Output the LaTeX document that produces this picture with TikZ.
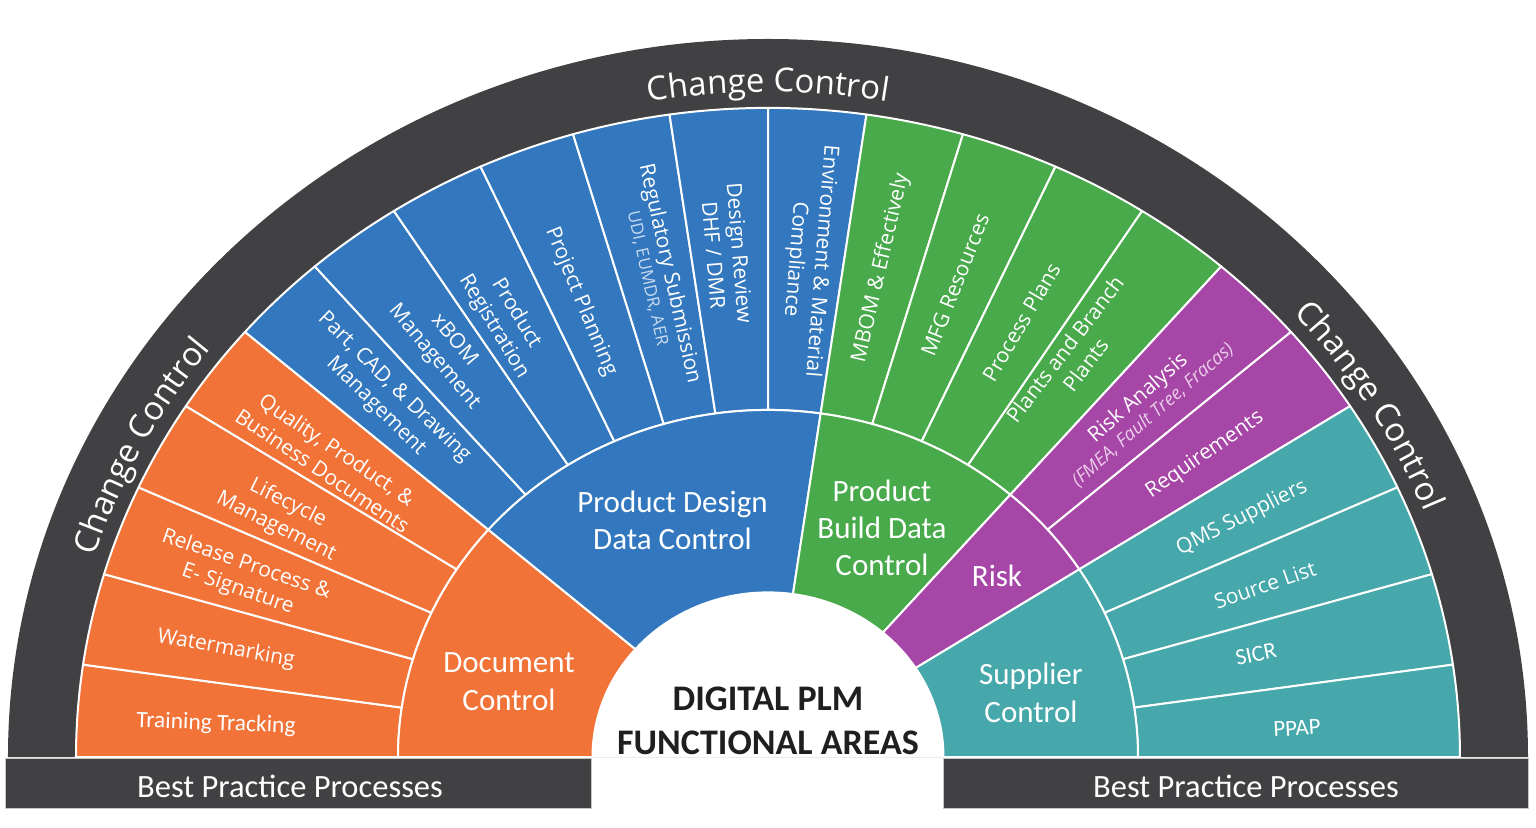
\documentclass[tikz,border=0pt]{standalone}
\usepackage{fontspec}
\setmainfont{Carlito}
\newfontfamily\osans{Open Sans}
\usetikzlibrary{decorations.text}
\definecolor{cOrange}{RGB}{241,115,56}
\definecolor{cBlue}{RGB}{51,120,190}
\definecolor{cGreen}{RGB}{72,170,74}
\definecolor{cPurple}{RGB}{166,70,166}
\definecolor{cTeal}{RGB}{70,168,170}
\definecolor{cDark}{RGB}{65,65,67}
\definecolor{cSubBlue}{RGB}{200,218,240}
\definecolor{cSubPink}{RGB}{236,205,236}
\def\K{0.938}
\def\st{8.181818}
\newcommand\wedgefill[5]{%
  \filldraw[wedge, fill=#1] ({#4*cos(#2)},{\K*#4*sin(#2)}) -- ({#5*cos(#2)},{\K*#5*sin(#2)})
    arc[start angle=#2, end angle=#3, x radius=#5, y radius=\K*#5]
    -- ({#4*cos(#3)},{\K*#4*sin(#3)})
    arc[start angle=#3, end angle=#2, x radius=#4, y radius=\K*#4] -- cycle;}
\begin{document}
\begin{tikzpicture}[x=1pt,y=1pt,
  wedge/.style={draw=white, line width=2pt, line join=round},
  ilabel/.style={text=white, font=\osans\fontsize{21}{26}\selectfont, align=center, inner sep=0pt},
  clabel/.style={text=white, font=\fontsize{31}{31}\selectfont, anchor=base, inner sep=0pt},
  tlabel/.style={text=black!88, font=\bfseries\fontsize{36}{36}\selectfont, anchor=base, inner sep=0pt},
  blabel/.style={text=white, font=\fontsize{32.5}{32.5}\selectfont, anchor=base, inner sep=0pt},
  bar/.style={fill=cDark, draw=gray!45, line width=1pt},
  cc/.style={decorate, decoration={text along path, text align=center, text color=white,
     text={|\osans\fontsize{33}{33}\selectfont|Change Control}}}
]
\useasboundingbox (-768,-70) rectangle (768,757);
% dark outer band
\fill[cDark] (-760,0) arc[start angle=180, end angle=0, x radius=760, y radius=718] -- cycle;
% outer items
\foreach \i/\c in {0/cOrange,1/cOrange,2/cOrange,3/cOrange,4/cOrange,
  5/cBlue,6/cBlue,7/cBlue,8/cBlue,9/cBlue,10/cBlue,11/cBlue,
  12/cGreen,13/cGreen,14/cGreen,15/cGreen,16/cPurple,17/cPurple,
  18/cTeal,19/cTeal,20/cTeal,21/cTeal}{
  \wedgefill{\c}{180-\i*\st}{180-(\i+1)*\st}{370}{692}
}
% categories
\wedgefill{cOrange}{180}{180-5*\st}{175.5}{370}
\wedgefill{cBlue}{180-5*\st}{180-12*\st}{175.5}{370}
\wedgefill{cGreen}{180-12*\st}{180-16*\st}{175.5}{370}
\wedgefill{cPurple}{180-16*\st}{180-18*\st}{175.5}{370}
\wedgefill{cTeal}{180-18*\st}{0}{175.5}{370}
\fill[white] (-175.5,0) arc[start angle=180, end angle=0, x radius=175.5, y radius=\K*175.5] -- cycle;
% bars
\filldraw[bar] (-762,-1) rectangle (-176,-51);
\filldraw[bar] (175,-1) rectangle (760,-51);
\node[blabel] (bp1) at (-478,-40) {Best Practice Processes};
\node[blabel] (bp2) at (478,-40) {Best Practice Processes};
% change control texts
\path[cc] ({706*cos(115)},{665*sin(115)}) arc[start angle=115, end angle=65, x radius=706, y radius=665];
\path[cc] ({706*cos(177.5)},{665*sin(177.5)}) arc[start angle=177.5, end angle=127.5, x radius=706, y radius=665];
\path[cc] ({706*cos(56.5)},{665*sin(56.5)}) arc[start angle=56.5, end angle=6.5, x radius=706, y radius=665];
% title
\node[tlabel] (t1) at (0,47) {DIGITAL PLM};
\node[tlabel] (t2) at (0,3) {FUNCTIONAL AREAS};
% categories labels
\node[clabel] (dc1) at (-259,84) {Document};
\node[clabel] (dc2) at (-259,47) {Control};
\node[clabel] (pd1) at (-95.5,244) {Product Design};
\node[clabel] (pd2) at (-95.5,207) {Data Control};
\node[clabel] (pb1) at (114,255) {Product};
\node[clabel] (pb2) at (114,218) {Build Data};
\node[clabel] (pb3) at (114,181) {Control};
\node[clabel] (rk) at (229,170) {Risk};
\node[clabel] (sc1) at (263,72) {Supplier};
\node[clabel] (sc2) at (263,35) {Control};
% item labels
\node[ilabel, rotate=-2, font=\fontsize{23.5}{28}\selectfont] (l0) at (-552,33) {Training Tracking};
\node[ilabel, rotate=-10] (l1) at (-542,108) {Watermarking};
\node[ilabel, rotate=-19] (l2) at (-526,180) {Release Process \&\\E- Signature};
\node[ilabel, rotate=-26.4] (l3) at (-486,242) {Lifecycle\\Management};
\node[ilabel, rotate=-34] (l4) at (-438,297) {Quality, Product, \&\\Business Documents};
\node[ilabel, rotate=-44.4] (l5) at (-383,360) {Part, CAD, \& Drawing\\Management};
\node[ilabel, rotate=-50] (l6) at (-324,408) {xBOM\\Management};
\node[ilabel, rotate=-59] (l7) at (-263,437) {Product\\Registration};
\node[ilabel, rotate=-67.7] (l8) at (-187,455) {Project Planning};
\node[ilabel, rotate=-77.4] (l9) at (-108,481) {Regulatory Submission\\[-4pt]{\color{cSubBlue}\fontsize{17}{20}\selectfont UDI, EUMDR, AER}};
\node[ilabel, rotate=-85.3] (l10) at (-41,503) {Design Review\\DHF / DMR};
\node[ilabel, rotate=-94.6] (l11) at (40,497) {Environment \& Material\\Compliance};
\node[ilabel, rotate=77] (l12) at (113,489) {MBOM \& Effectively};
\node[ilabel, rotate=68.4] (l13) at (187,472) {MFG Resources};
\node[ilabel, rotate=59.8] (l14) at (253,435) {Process Plans};
\node[ilabel, rotate=52.5] (l15) at (307,400) {Plants and Branch\\Plants};
\node[ilabel, rotate=41.1] (l16) at (377,351) {Risk Analysis\\[-4pt]{\color{cSubPink}\itshape\fontsize{18.5}{21}\selectfont (FMEA, Fault Tree, Fracas)}};
\node[ilabel, rotate=34.6] (l17) at (437,302) {Requirements};
\node[ilabel, rotate=26.8] (l18) at (474,239) {QMS Suppliers};
\node[ilabel, rotate=19.1] (l19) at (497,172) {Source List};
\node[ilabel, rotate=11.9, font=\fontsize{23}{28}\selectfont] (l20) at (488,103) {SICR};
\node[ilabel, rotate=3.1, font=\fontsize{23}{28}\selectfont] (l21) at (529,29) {PPAP};
\end{tikzpicture}
\end{document}
